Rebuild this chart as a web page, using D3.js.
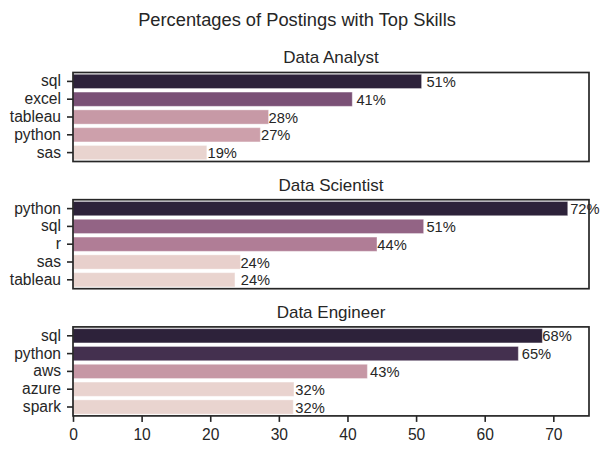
<!DOCTYPE html>
<html>
<head>
<meta charset="utf-8">
<script src="https://cdn.jsdelivr.net/npm/d3@7"></script>
<style>
body{margin:0;background:#fff}
text{font-family:"Liberation Sans",Arial,sans-serif;fill:#262626}
</style>
</head>
<body>
<svg></svg>
<script>
// data
var titles = ["Data Analyst", "Data Scientist", "Data Engineer"]

var skillsDA = ["sql", "excel", "tableau", "python", "sas"]
var barsDA = [50.8, 40.7, 28.5, 27.3, 19.5]
var pctDA = [51, 41, 28, 27, 19]
var labelAtDA = [51.5, 41.3, 28.5, 27.4, 19.6]

var skillsDS = ["python", "sql", "r", "sas", "tableau"]
var barsDS = [72.1, 51.1, 44.3, 24.4, 23.6]
var pctDS = [72, 51, 44, 24, 24]
var labelAtDS = [72.45, 51.5, 44.35, 24.4, 24.45]

var skillsDE = ["sql", "python", "aws", "azure", "spark"]
var barsDE = [68.4, 64.9, 42.9, 32.2, 32.1]
var pctDE = [68, 65, 43, 32, 32]
var labelAtDE = [68.4, 65.4, 43.3, 32.4, 32.4]

var xTicks = [0, 10, 20, 30, 40, 50, 60, 70]
var xMax = 75.2

var width = 610
var height = 453

var svg = d3.select("svg")
    .attr("width", width)
    .attr("height", height)

var panels = [
    {title: titles[0], skills: skillsDA, bars: barsDA, pct: pctDA, labelAt: labelAtDA},
    {title: titles[1], skills: skillsDS, bars: barsDS, pct: pctDS, labelAt: labelAtDS},
    {title: titles[2], skills: skillsDE, bars: barsDE, pct: pctDE, labelAt: labelAtDE}
]

var plot = {left: 73, right: 589, top: 72.5, step: 127.2, height: 89}
var ink = "#262626"

var xScale = d3.scaleLinear()
    .domain([0, xMax])
    .range([plot.left, plot.right])

// seaborn default cubehelix (light .85 -> dark .15), desaturated to .75
var cubehelix = function(x){
    var a = 0.8 * x * (1 - x) / 2
    var phi = 2 * Math.PI * (0.4 * x)
    var c = Math.cos(phi), s = Math.sin(phi)
    var ch = function(p0, p1){ return Math.max(0, Math.min(1, x + a * (p0 * c + p1 * s))) * 255 }
    var col = d3.hsl(d3.rgb(ch(-0.14861, 1.78277), ch(-0.29227, -0.90649), ch(1.97294, 0)))
    col.s = col.s * 0.75
    return col.formatHex()
}

// suptitle
svg.append("text")
    .attr("x", 297)
    .attr("y", 25.5)
    .attr("text-anchor", "middle")
    .style("font-size", "18.3px")
    .text("Percentages of Postings with Top Skills")

panels.forEach(function(p, i){
    var top = plot.top + i * plot.step
    var bottom = top + plot.height

    var yScale = d3.scaleBand()
        .domain(p.skills)
        .range([top, bottom])
        .paddingInner(0.2)
        .paddingOuter(0.1)

    var lo = d3.min(p.bars), hi = d3.max(p.bars)
    var hue = d3.scaleLinear().domain([lo, hi]).range([0.85, 0.15])

    var g = svg.append("g")

    g.selectAll("rect.bar")
        .data(p.bars)
        .enter()
        .append("rect")
        .attr("class", "bar")
        .attr("x", xScale(0))
        .attr("y", function(d, j){ return yScale(p.skills[j]) })
        .attr("width", function(d){ return xScale(d) - xScale(0) })
        .attr("height", yScale.bandwidth())
        .attr("fill", function(d){ return cubehelix(hue(d)) })
        .attr("stroke", "#fff")
        .attr("stroke-opacity", 0.35)
        .attr("stroke-width", 1)

    g.selectAll("text.lab")
        .data(p.pct)
        .enter()
        .append("text")
        .attr("class", "lab")
        .attr("x", function(d, j){ return xScale(p.labelAt[j]) })
        .attr("y", function(d, j){ return yScale(p.skills[j]) + yScale.bandwidth() / 2 + 0.5 })
        .attr("dominant-baseline", "central")
        .style("font-size", "14.7px")
        .text(function(d){ return d + "%" })

    // y axis
    var yAxis = d3.axisLeft(yScale).tickSize(6).tickPadding(6)
    var ya = g.append("g")
        .attr("transform", "translate(" + plot.left + ",0)")
        .call(yAxis)
    ya.select(".domain").remove()
    ya.selectAll("line").attr("stroke", ink).attr("stroke-width", 1.6)
    ya.selectAll("text").style("font-size", "15.6px").attr("fill", ink)

    // x axis only on the last panel
    if (i == panels.length - 1) {
        var xAxis = d3.axisBottom(xScale).tickValues(xTicks).tickSize(6).tickPadding(7)
        var xa = g.append("g")
            .attr("transform", "translate(0," + bottom + ")")
            .call(xAxis)
        xa.select(".domain").remove()
        xa.selectAll("line").attr("stroke", ink).attr("stroke-width", 1.6)
        xa.selectAll("text").style("font-size", "15.6px").attr("fill", ink)
    }

    // frame
    g.append("rect")
        .attr("x", plot.left)
        .attr("y", top)
        .attr("width", plot.right - plot.left)
        .attr("height", plot.height)
        .attr("fill", "none")
        .attr("stroke", ink)
        .attr("stroke-width", 1.7)

    // panel title
    g.append("text")
        .attr("x", (plot.left + plot.right) / 2)
        .attr("y", top - 9.2)
        .attr("text-anchor", "middle")
        .style("font-size", "17px")
        .text(p.title)
})
</script>
</body>
</html>
